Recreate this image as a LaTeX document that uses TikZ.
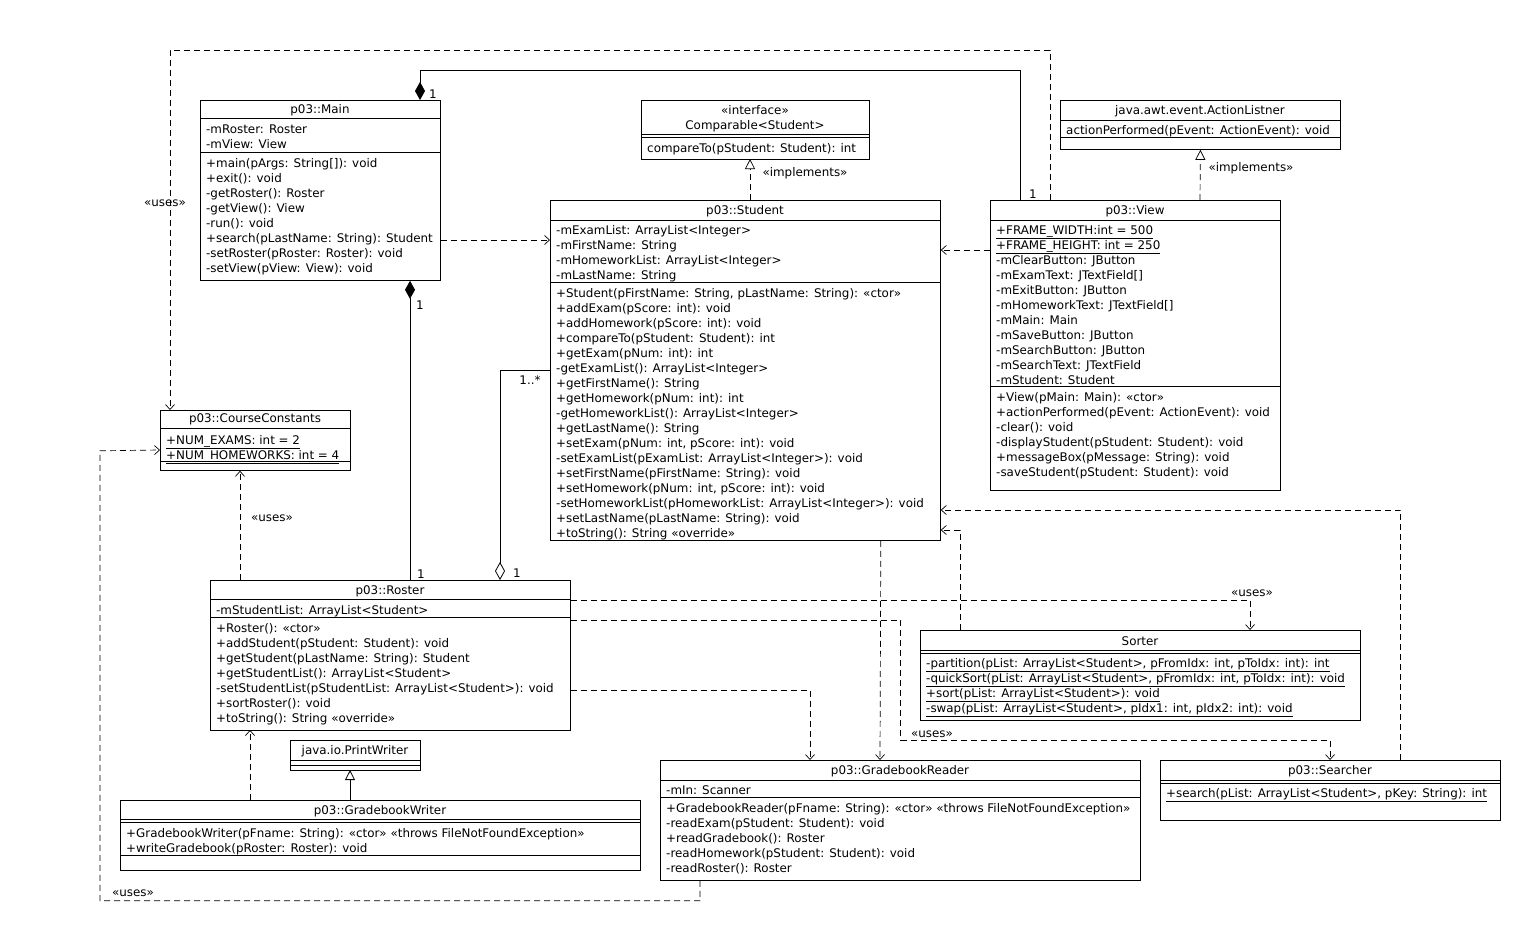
\documentclass[tikz,border=0pt]{standalone}
\usepackage{fontspec}
\setmainfont{DejaVu Sans}
\usetikzlibrary{arrows.meta}
\newcommand\umlcls[6]{\node[cls,minimum width={#4-#2},minimum height={#5-#3}] (#1) at (#2,#3) {};
 \foreach \s in {#6} \draw[line width=0.8pt] (#2,\s) -- (#4,\s);}
\newcommand\sect[4]{\node[txt] (#1) at (#2,{#3-4}) {#4};}
\newcommand\ttl[4]{\node[ttlS] (#1) at (#2,#3) {#4};}
\begin{document}
\begin{tikzpicture}[x=1pt,y=-1pt,
 every node/.style={font=\fontsize{11.9}{15}\selectfont},
 cls/.style={draw,line width=0.8pt,inner sep=0,anchor=north west},
 txt/.style={anchor=north west,align=left,inner sep=0},
 ttlS/.style={align=center,inner sep=0},
 lbl/.style={inner sep=0},
 dep/.style={line width=0.7pt,dash pattern=on 6pt off 4pt,-{Straight Barb[length=5pt,width=9pt]}},
 real/.style={line width=0.7pt,dash pattern=on 6pt off 4pt,-{Triangle[open,length=10pt,width=10pt]}},
 inh/.style={line width=0.8pt,-{Triangle[open,length=10pt,width=10pt]}},
 compo/.style={line width=0.8pt,{Diamond[length=18pt,width=10pt]}-},
 aggr/.style={line width=0.8pt,{Diamond[open,length=18pt,width=10pt]}-}]
\useasboundingbox (0,0) rectangle (1520,940);

% Main
\umlcls{main}{200}{100}{440}{280}{118,152}
\ttl{mainT}{320}{110}{p03::Main}
\sect{mainA}{206}{129}{-mRoster: Roster\\-mView: View}
\sect{mainO}{206}{162}{+main(pArgs: String[]): void\\+exit(): void\\-getRoster(): Roster\\-getView(): View\\-run(): void\\+search(pLastName: String): Student\\-setRoster(pRoster: Roster): void\\-setView(pView: View): void}

% Comparable
\umlcls{comp}{641}{100}{869}{159}{134,137}
\ttl{compT}{755}{118.5}{«interface»\\Comparable<Student>}
\sect{compO}{647}{147}{compareTo(pStudent: Student): int}

% Student
\umlcls{student}{550}{200}{940}{540}{220,282}
\ttl{studentT}{745}{211}{p03::Student}
\sect{studentA}{556}{229}{-mExamList: ArrayList<Integer>\\-mFirstName: String\\-mHomeworkList: ArrayList<Integer>\\-mLastName: String}
\sect{studentO}{556}{292}{+Student(pFirstName: String, pLastName: String): «ctor»\\+addExam(pScore: int): void\\+addHomework(pScore: int): void\\+compareTo(pStudent: Student): int\\+getExam(pNum: int): int\\-getExamList(): ArrayList<Integer>\\+getFirstName(): String\\+getHomework(pNum: int): int\\-getHomeworkList(): ArrayList<Integer>\\+getLastName(): String\\+setExam(pNum: int, pScore: int): void\\-setExamList(pExamList: ArrayList<Integer>): void\\+setFirstName(pFirstName: String): void\\+setHomework(pNum: int, pScore: int): void\\-setHomeworkList(pHomeworkList: ArrayList<Integer>): void\\+setLastName(pLastName: String): void\\+toString(): String «override»}

% ActionListner
\umlcls{al}{1060}{100}{1340}{149}{120,137}
\ttl{alT}{1200}{111}{java.awt.event.ActionListner}
\sect{alA}{1066}{129}{actionPerformed(pEvent: ActionEvent): void}

% View
\umlcls{view}{990}{200}{1280}{490}{220,386}
\ttl{viewT}{1135}{211}{p03::View}
\sect{viewA}{996}{229}{\underline{+FRAME\_WIDTH:int = 500}\\\underline{+FRAME\_HEIGHT: int = 250}\\-mClearButton: JButton\\-mExamText: JTextField[]\\-mExitButton: JButton\\-mHomeworkText: JTextField[]\\-mMain: Main\\-mSaveButton: JButton\\-mSearchButton: JButton\\-mSearchText: JTextField\\-mStudent: Student}
\sect{viewO}{996}{396}{+View(pMain: Main): «ctor»\\+actionPerformed(pEvent: ActionEvent): void\\-clear(): void\\-displayStudent(pStudent: Student): void\\+messageBox(pMessage: String): void\\-saveStudent(pStudent: Student): void}

% CourseConstants
\umlcls{cc}{160}{410}{350}{470}{428,461}
\ttl{ccT}{255}{419}{p03::CourseConstants}
\sect{ccA}{166}{439}{\underline{+NUM\_EXAMS: int = 2}\\\underline{+NUM\_HOMEWORKS: int = 4}}

% Roster
\umlcls{roster}{210}{580}{570}{730}{599,617}
\ttl{rosterT}{390}{591}{p03::Roster}
\sect{rosterA}{216}{609}{-mStudentList: ArrayList<Student>}
\sect{rosterO}{216}{627}{+Roster(): «ctor»\\+addStudent(pStudent: Student): void\\+getStudent(pLastName: String): Student\\+getStudentList(): ArrayList<Student>\\-setStudentList(pStudentList: ArrayList<Student>): void\\+sortRoster(): void\\+toString(): String «override»}

% PrintWriter
\umlcls{pw}{290}{740}{420}{770}{760,765}
\ttl{pwT}{355}{751}{java.io.PrintWriter}

% GradebookWriter
\umlcls{gw}{120}{800}{640}{870}{819,822,855}
\ttl{gwT}{380}{811}{p03::GradebookWriter}
\sect{gwO}{126}{832}{+GradebookWriter(pFname: String): «ctor» «throws FileNotFoundException»\\+writeGradebook(pRoster: Roster): void}

% GradebookReader
\umlcls{gr}{660}{760}{1140}{880}{780,797}
\ttl{grT}{900}{771}{p03::GradebookReader}
\sect{grA}{666}{789}{-mIn: Scanner}
\sect{grO}{666}{807}{+GradebookReader(pFname: String): «ctor» «throws FileNotFoundException»\\-readExam(pStudent: Student): void\\+readGradebook(): Roster\\-readHomework(pStudent: Student): void\\-readRoster(): Roster}

% Sorter
\umlcls{sorter}{920}{630}{1360}{720}{650,653}
\ttl{sorterT}{1140}{641}{Sorter}
\sect{sorterO}{926}{662}{\underline{-partition(pList: ArrayList<Student>, pFromIdx: int, pToIdx: int): int}\\\underline{-quickSort(pList: ArrayList<Student>, pFromIdx: int, pToIdx: int): void}\\\underline{+sort(pList: ArrayList<Student>): void}\\\underline{-swap(pList: ArrayList<Student>, pIdx1: int, pIdx2: int): void}}

% Searcher
\umlcls{searcher}{1160}{760}{1500}{820}{780,783}
\ttl{searcherT}{1330}{771}{p03::Searcher}
\sect{searcherO}{1166}{792}{\underline{+search(pList: ArrayList<Student>, pKey: String): int}}

% connectors
\draw[compo] ([xshift=220pt]main.north west) -- ++(0,-30) -| ([xshift=30pt]view.north west);
\node[lbl] (l1) at (433,94) {1};
\node[lbl] (l2) at (1033,194) {1};
\draw[compo] ([xshift=210pt]main.south west) -- ([xshift=200pt]roster.north west);
\node[lbl] (l3) at (420,305) {1};
\node[lbl] (l4) at (421,574) {1};
\draw[aggr] ([xshift=290pt]roster.north west) |- ([yshift=-170pt]student.north west);
\node[lbl] (l5) at (530,380) {1..*};
\node[lbl] (l6) at (517,573) {1};
\draw[dep] ([yshift=-140pt]main.north east) -- ([yshift=-40pt]student.north west);
\draw[real] ([xshift=200pt]student.north west) -- ++(0,-41);
\node[lbl] (l7) at (805,173) {«implements»};
\draw[real] ([xshift=210pt]view.north west) -- (al.south);
\node[lbl] (l8) at (1251,168) {«implements»};
\draw[dep] ([yshift=-50pt]view.north west) -- ([yshift=-50pt]student.north east);
\draw[dep] ([xshift=60pt]view.north west) -- ++(0,-150) -| ([xshift=10pt]cc.north west);
\node[lbl] (l9) at (165,203) {«uses»};
\draw[dep] ([xshift=30pt]roster.north west) -- ([xshift=80pt]cc.south west);
\node[lbl] (l10) at (272,518) {«uses»};
\draw[dep] ([xshift=130pt]gw.north west) -- ++(0,-70);
\draw[inh] ([xshift=230pt]gw.north west) -- ++(0,-30);
\draw[dep] ([xshift=40pt]gr.south west) -- ++(0,20) -- ++(-600,0) -- ++(0,-450) -- ([yshift=-40pt]cc.north west);
\node[lbl] (l11) at (133,893) {«uses»};
\draw[dep] ([yshift=-20pt]roster.north east) -| ([xshift=330pt]sorter.north west);
\node[lbl] (l12) at (1252,593) {«uses»};
\draw[dep] ([yshift=-40pt]roster.north east) -- ++(330,0) -- ++(0,120) -| ([xshift=170pt]searcher.north west);
\node[lbl] (l13) at (932,734) {«uses»};
\draw[dep] ([yshift=-110pt]roster.north east) -| ([xshift=150pt]gr.north west);
\draw[dep] ([xshift=-60pt]student.south east) -- ([xshift=220pt]gr.north west);
\draw[dep] ([xshift=40pt]sorter.north west) |- ([yshift=-330pt]student.north east);
\draw[dep] ([xshift=-100pt]searcher.north east) |- ([yshift=-310pt]student.north east);
\end{tikzpicture}
\end{document}
